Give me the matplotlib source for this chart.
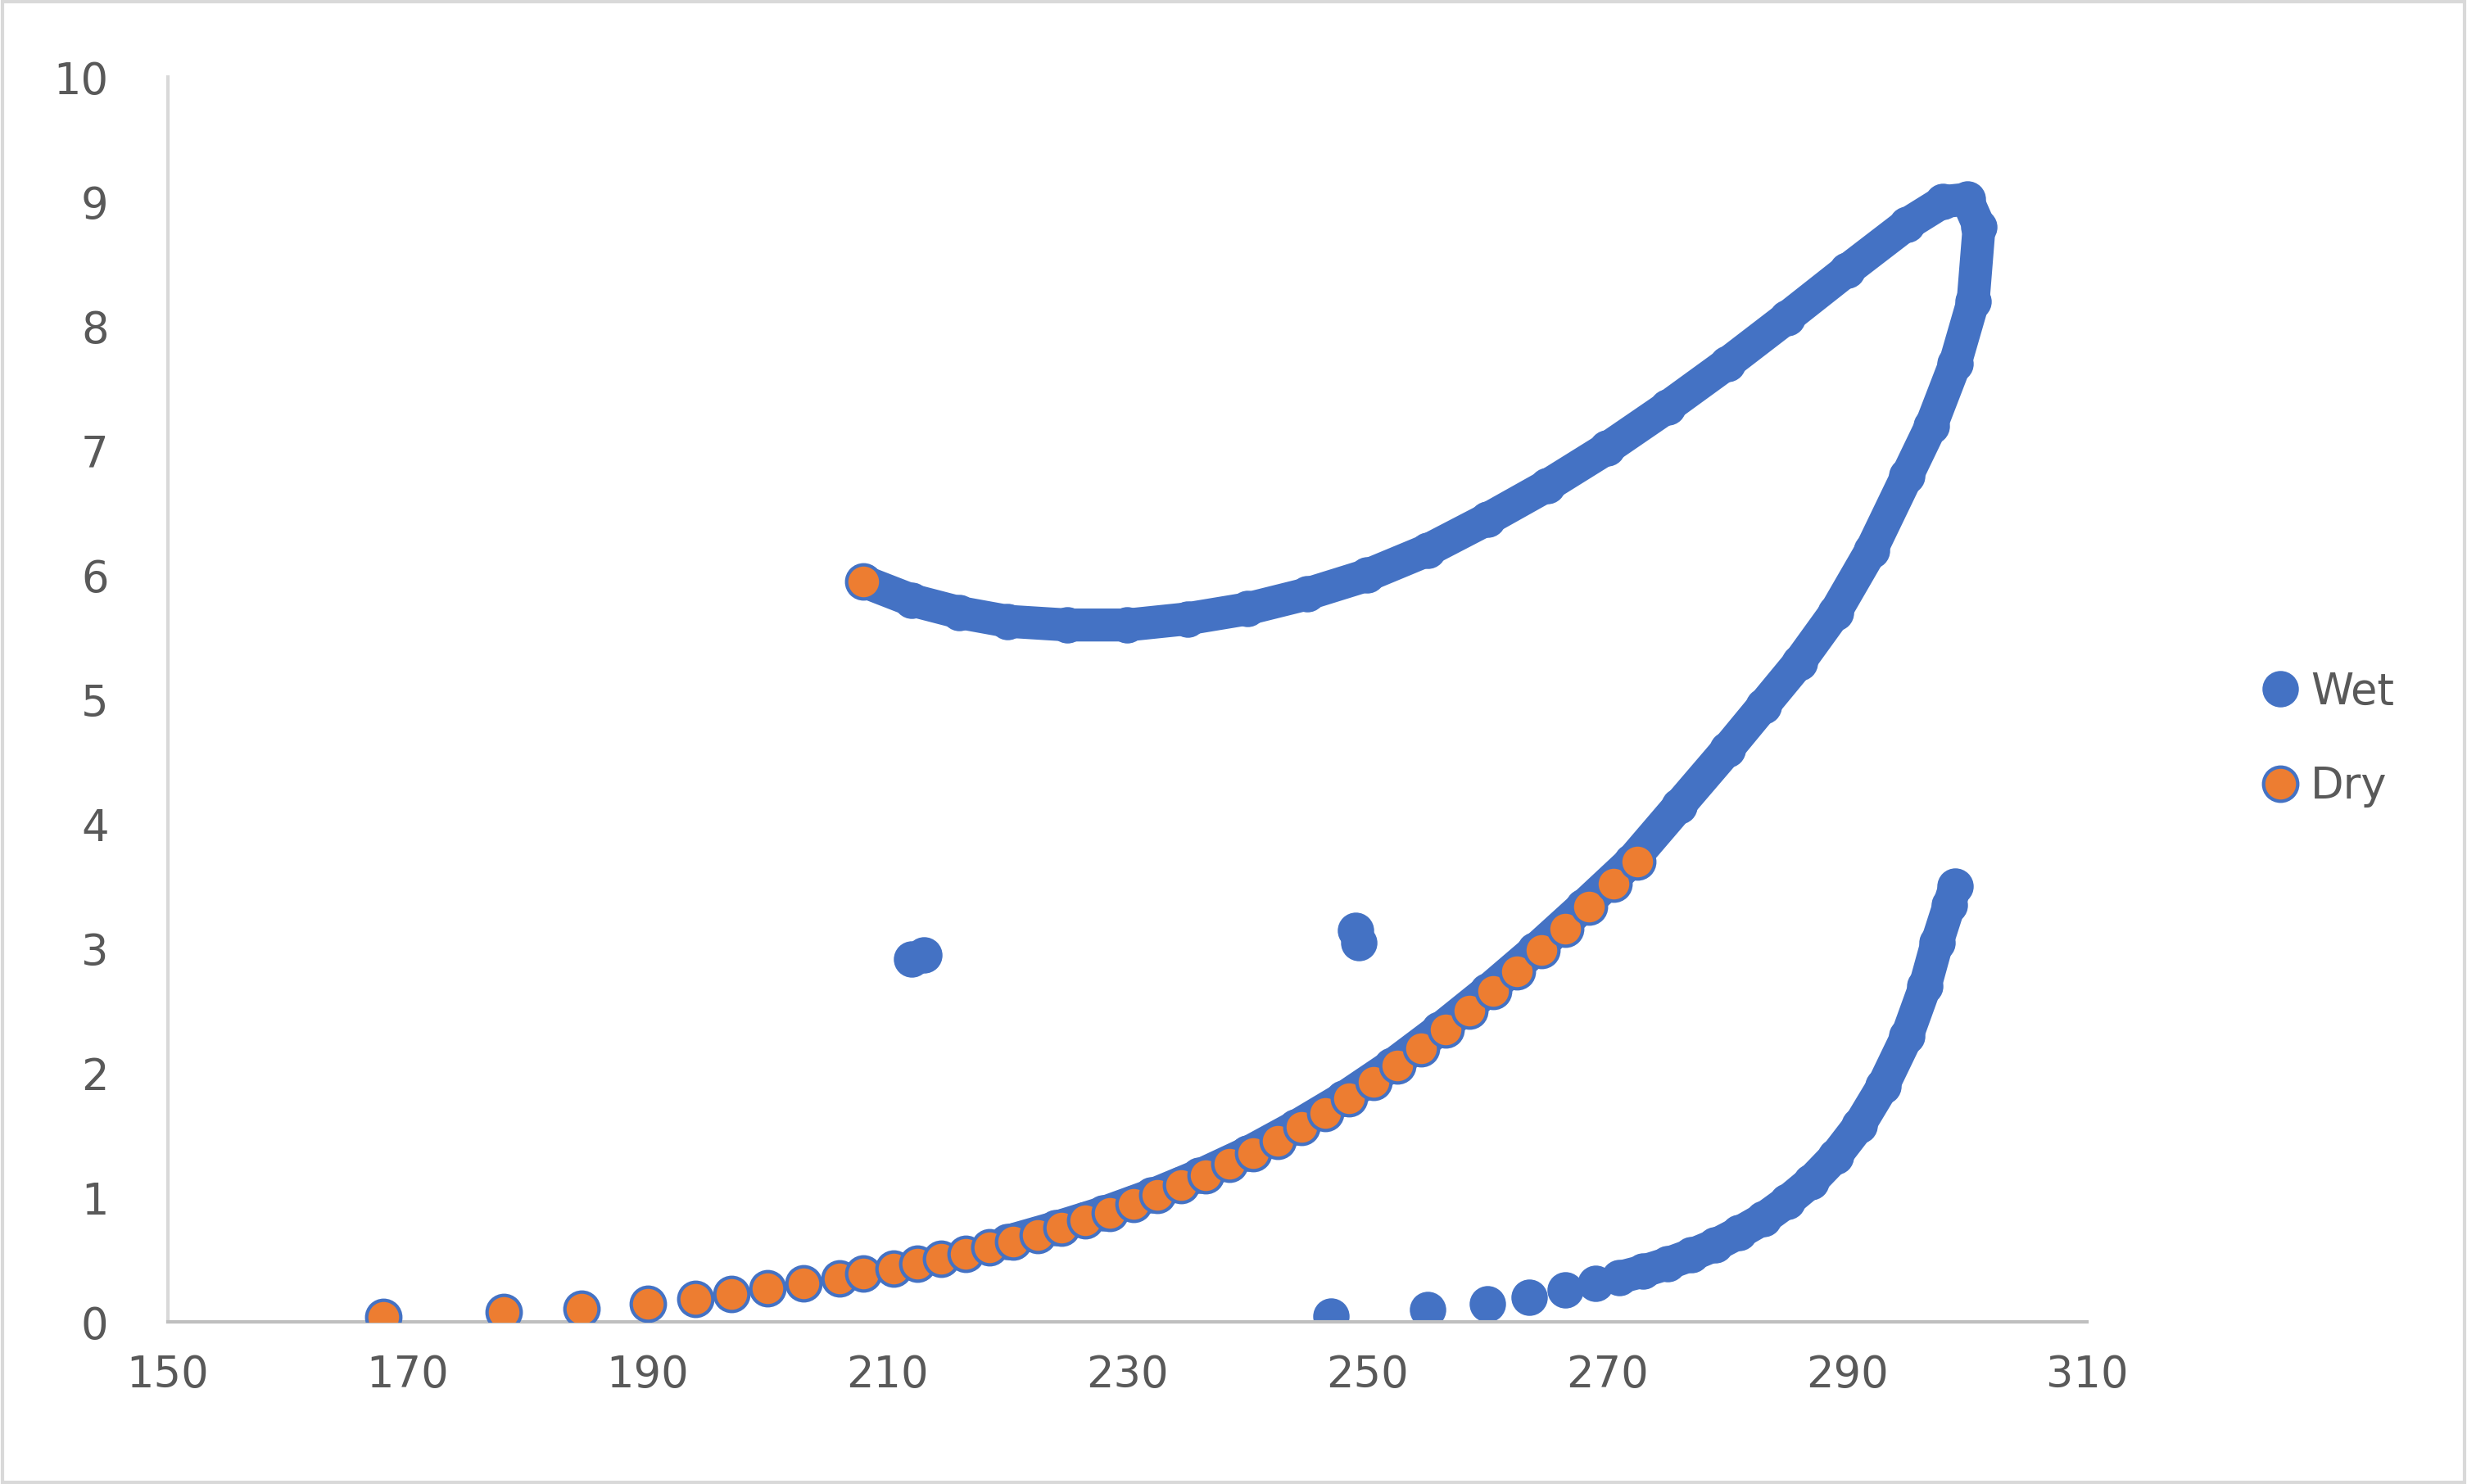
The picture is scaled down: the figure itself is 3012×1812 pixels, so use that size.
import matplotlib.pyplot as plt
from matplotlib.lines import Line2D
from matplotlib.patches import Rectangle

BLUE = '#4472C4'
ORANGE = '#ED7D31'
GREY = '#595959'

# wet series: main loop (ordered along the curve)
wet_loop_x = [208, 212, 216, 220, 225, 230, 235, 240, 245, 250, 255, 260, 265, 270, 275,
              280, 285, 290, 295, 298, 300, 301, 300.5, 299, 297, 295, 292, 289, 286, 283,
              280, 276, 272, 268, 264, 260, 256, 252, 248, 244, 240, 236, 232, 228, 224, 220]
wet_loop_y = [5.95, 5.8, 5.7, 5.63, 5.6, 5.6, 5.65, 5.73, 5.85, 6.0, 6.2, 6.45, 6.72, 7.02, 7.35,
              7.7, 8.07, 8.45, 8.82, 9.0, 9.02, 8.8, 8.2, 7.7, 7.2, 6.8, 6.2, 5.7, 5.3, 4.95,
              4.6, 4.15, 3.7, 3.34, 2.99, 2.66, 2.35, 2.06, 1.8, 1.57, 1.36, 1.18, 1.02, 0.88, 0.76, 0.65]
# wet series: lower right branch
wet_low_x = [247, 255, 260, 263.5, 266.5, 269, 271, 273, 275, 277, 279, 281, 283, 285, 287,
             289, 291, 293, 295, 296.5, 297.5, 298.5, 299]
wet_low_y = [0.05, 0.1, 0.15, 0.2, 0.26, 0.31, 0.36, 0.41, 0.47, 0.54, 0.62, 0.72, 0.83, 0.97, 1.13,
             1.33, 1.58, 1.9, 2.3, 2.7, 3.05, 3.35, 3.5]
# wet series: isolated points
wet_iso_x = [212, 213, 249, 249.3]
wet_iso_y = [2.92, 2.95, 3.15, 3.05]

dry_x = [168, 178, 184.5, 190, 194, 197, 200, 203, 206, 208, 210.5, 212.5, 214.5, 216.5, 218.5,
         220.5, 222.5, 224.5, 226.5, 228.5, 230.5, 232.5, 234.5, 236.5, 238.5, 240.5, 242.5,
         244.5, 246.5, 248.5, 250.5, 252.5, 254.5, 256.5, 258.5, 260.5, 262.5, 264.5, 266.5,
         268.5, 270.5, 272.5, 208]
dry_y = [0.04, 0.08, 0.11, 0.15, 0.19, 0.23, 0.27, 0.31, 0.35, 0.39, 0.43, 0.47, 0.51, 0.55, 0.6,
         0.65, 0.7, 0.76, 0.82, 0.88, 0.95, 1.02, 1.1, 1.18, 1.27, 1.36, 1.46,
         1.57, 1.68, 1.8, 1.93, 2.06, 2.2, 2.35, 2.5, 2.66, 2.82, 2.99, 3.16,
         3.34, 3.52, 3.7, 5.95]

fig = plt.figure(figsize=(15.06, 9.06), dpi=200)
fig.patches.append(Rectangle((0.001, 0.001), 0.998, 0.998, transform=fig.transFigure,
                             fill=False, edgecolor='#D9D9D9', linewidth=1.5))
ax = fig.add_axes([0.068, 0.109, 0.778, 0.839])

ms = 15
lw = 14.5
ax.plot(wet_loop_x, wet_loop_y, color=BLUE, linewidth=lw, solid_capstyle='round',
        solid_joinstyle='round', zorder=2)
ax.plot(wet_loop_x, wet_loop_y, 'o', color=BLUE, markersize=ms, zorder=2)
ax.plot(wet_low_x[6:], wet_low_y[6:], color=BLUE, linewidth=lw, solid_capstyle='round',
        solid_joinstyle='round', zorder=2)
ax.plot(wet_low_x, wet_low_y, 'o', color=BLUE, markersize=ms, zorder=2)
ax.plot(wet_iso_x, wet_iso_y, 'o', color=BLUE, markersize=ms, zorder=2)
ax.plot(dry_x, dry_y, 'o', markerfacecolor=ORANGE, markeredgecolor=BLUE,
        markeredgewidth=1.5, markersize=ms, zorder=3)

ax.set_xlim(150, 310)
ax.set_ylim(0, 10)
ax.set_xticks(range(150, 311, 20))
ax.set_yticks(range(0, 11))
for s in ['top', 'right']:
    ax.spines[s].set_visible(False)
ax.spines['left'].set_color('#D9D9D9')
ax.spines['bottom'].set_color('#BFBFBF')
ax.spines['left'].set_linewidth(1.5)
ax.spines['bottom'].set_linewidth(1.5)
ax.tick_params(length=0, labelsize=19, labelcolor=GREY, pad=14)
ax.tick_params(axis='y', pad=26)

handles = [Line2D([], [], marker='o', linestyle='', color=BLUE, markersize=ms),
           Line2D([], [], marker='o', linestyle='', markerfacecolor=ORANGE,
                  markeredgecolor=BLUE, markeredgewidth=1.5, markersize=ms)]
fig.legend(handles, ['Wet', 'Dry'], loc='center left', bbox_to_anchor=(0.898, 0.502),
           frameon=False, fontsize=19, labelcolor=GREY, handletextpad=0.1,
           labelspacing=1.2, handlelength=1.2)

fig.savefig('out.png', dpi=200, facecolor='white')
